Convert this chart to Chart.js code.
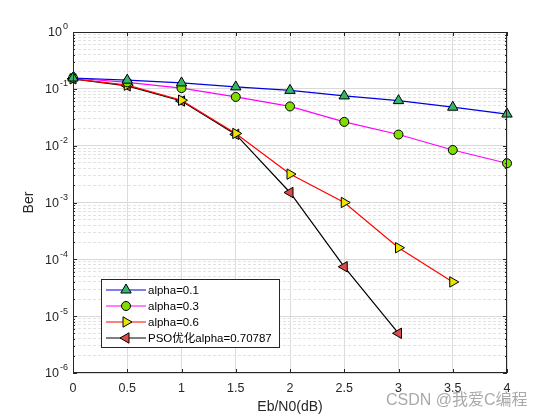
<!DOCTYPE html>
<html>
<head>
<meta charset="utf-8">
<script src="https://cdn.jsdelivr.net/npm/chart.js@4.4.0/dist/chart.umd.min.js"></script>
<style>
html,body{margin:0;padding:0;background:#fff;}
#wrap{width:560px;height:420px;position:relative;}
</style>
</head>
<body>
<div id="wrap"><canvas id="c" width="560" height="420"></canvas></div>
<script>
// ---- data ----
const ebn0 = [0, 0.5, 1, 1.5, 2, 2.5, 3, 3.5, 4];
const ber01 = [0.155, 0.142, 0.127, 0.108, 0.094, 0.075, 0.062, 0.0475, 0.036];
const ber03 = [0.155, 0.130, 0.103, 0.072, 0.049, 0.0262, 0.0157, 0.0084, 0.0049];
const ber06 = [0.150, 0.116, 0.063, 0.0164, 0.00316, 0.00100, 0.000160, 0.0000400];
const berPSO = [0.150, 0.113, 0.061, 0.0158, 0.00150, 0.0000740, 0.0000050];
const seriesLabels = ['alpha=0.1', 'alpha=0.3', 'alpha=0.6', 'PSO优化alpha=0.70787'];
const xTicks = [0, 0.5, 1, 1.5, 2, 2.5, 3, 3.5, 4];
const yTickExponents = [0, -1, -2, -3, -4, -5, -6];
const minorMultipliers = [2, 3, 4, 5, 6, 7, 8, 9];
const xTitle = 'Eb/N0(dB)';
const yTitle = 'Ber';
const watermark = 'CSDN @我爱C编程';

const FONT = '"Liberation Sans", Arial, "Noto Sans CJK SC", sans-serif';
const TXT = '#262626';

function pts(arr){ return arr.map((v,i)=>({x: ebn0[i], y: v})); }

const yTickValues = [];
yTickExponents.forEach(e => {
  yTickValues.push({value: Math.pow(10, e), major: true});
  if (e < 0) minorMultipliers.forEach(m => yTickValues.push({value: m * Math.pow(10, e), major: false}));
});
yTickValues.sort((a,b)=>a.value-b.value);

const styles = [
  {color:'#0000e6', fill:'#2fb86a', style:'triangle', rot:0, r:6},
  {color:'#ff00ff', fill:'#80dd00', style:'circle', rot:0, r:4.5},
  {color:'#ff0000', fill:'#e6e600', style:'triangle', rot:90, r:6},
  {color:'#000000', fill:'#dd4a4a', style:'triangle', rot:-90, r:6},
];
const allData = [ber01, ber03, ber06, berPSO];

const datasets = allData.map((d,i)=>({
  label: seriesLabels[i],
  data: pts(d),
  borderColor: styles[i].color,
  backgroundColor: styles[i].fill,
  pointBackgroundColor: styles[i].fill,
  pointBorderColor: '#000',
  pointBorderWidth: 1,
  pointStyle: styles[i].style,
  pointRotation: styles[i].rot,
  pointRadius: styles[i].r,
  borderWidth: 1.2,
  tension: 0,
  clip: false
}));

function isDecade(v){
  if (v === undefined) return true;
  const l = Math.log10(v);
  return Math.abs(l - Math.round(l)) < 1e-6;
}

const decorPlugin = {
  id: 'decor',
  afterDraw(chart){
    const ctx = chart.ctx;
    const a = chart.chartArea;
    const xs = chart.scales.x, ys = chart.scales.y;
    ctx.save();
    // frame
    ctx.strokeStyle = '#262626';
    ctx.lineWidth = 1;
    ctx.strokeRect(a.left+0.5, a.top+0.5, a.right-a.left-1, a.bottom-a.top-1);
    // inward ticks
    ctx.beginPath();
    xTicks.forEach(t => {
      const px = Math.round(xs.getPixelForValue(t)) + 0.5;
      ctx.moveTo(px, a.bottom); ctx.lineTo(px, a.bottom-4);
      ctx.moveTo(px, a.top); ctx.lineTo(px, a.top+4);
    });
    yTickValues.forEach(t => {
      const py = Math.round(ys.getPixelForValue(t.value)) + 0.5;
      const len = t.major ? 4 : 2;
      ctx.moveTo(a.left, py); ctx.lineTo(a.left+len, py);
      ctx.moveTo(a.right, py); ctx.lineTo(a.right-len, py);
    });
    ctx.stroke();
    // y tick labels 10^n
    ctx.fillStyle = TXT;
    ctx.textBaseline = 'middle';
    yTickExponents.forEach(e => {
      const py = ys.getPixelForValue(Math.pow(10, e));
      const exp = String(e);
      ctx.font = '9px ' + FONT;
      const ew = ctx.measureText(exp).width;
      ctx.textAlign = 'right';
      ctx.fillText(exp, a.left - 5, py - 5);
      ctx.font = '12.5px ' + FONT;
      ctx.fillText('10', a.left - 5 - ew - 1, py + 1);
    });
    // legend
    const lx = 101, ly = 279, lw = 178, lh = 68;
    ctx.fillStyle = '#fff';
    ctx.fillRect(lx, ly, lw, lh);
    ctx.strokeStyle = '#262626';
    ctx.lineWidth = 1;
    ctx.strokeRect(lx+0.5, ly+0.5, lw, lh);
    chart.data.datasets.forEach((ds, i) => {
      const yy = ly + 11 + i*16;
      ctx.strokeStyle = ds.borderColor;
      ctx.lineWidth = 1.2;
      ctx.beginPath(); ctx.moveTo(lx+5, yy); ctx.lineTo(lx+45, yy); ctx.stroke();
      ctx.fillStyle = ds.pointBackgroundColor;
      ctx.strokeStyle = '#000';
      ctx.lineWidth = 1;
      Chart.helpers.drawPoint(ctx, {pointStyle: ds.pointStyle, rotation: ds.pointRotation, radius: ds.pointRadius, borderWidth: 1}, lx+25, yy);
      ctx.fillStyle = '#000';
      ctx.font = '11.5px ' + FONT;
      ctx.textAlign = 'left';
      ctx.textBaseline = 'middle';
      ctx.fillText(ds.label, lx+47, yy+1);
    });
    // watermark
    ctx.font = '16px ' + FONT;
    ctx.fillStyle = 'rgba(140,140,140,0.75)';
    ctx.textAlign = 'left';
    ctx.textBaseline = 'middle';
    ctx.fillText(watermark, 386, 401);
    ctx.restore();
  }
};

new Chart(document.getElementById('c'), {
  type: 'line',
  data: { datasets },
  options: {
    responsive: false,
    animation: false,
    devicePixelRatio: 1,
    layout: { padding: { left: 0, top: 32, right: 53, bottom: 0 } },
    plugins: { legend: { display: false }, tooltip: { enabled: false } },
    scales: {
      x: {
        type: 'linear', min: 0, max: 4,
        afterBuildTicks: s => { s.ticks = xTicks.map(v => ({value: v})); },
        afterFit: s => { s.height = 47; },
        ticks: { color: TXT, font: { family: FONT, size: 12.5 }, padding: 8, maxRotation: 0,
                 callback: v => String(v) },
        grid: { color: '#dcdcdc', lineWidth: 1, drawTicks: false },
        border: { display: false },
        title: { display: true, text: xTitle, color: TXT, font: { family: FONT, size: 14 }, padding: { top: 0, bottom: 4 } }
      },
      y: {
        type: 'logarithmic', min: 1e-6, max: 1,
        afterBuildTicks: s => { s.ticks = yTickValues.map(t => ({value: t.value, major: t.major})); },
        afterFit: s => { s.width = 73; },
        ticks: { display: false },
        grid: {
          drawTicks: false,
          color: c => (c.tick && !isDecade(c.tick.value)) ? '#e3e3e3' : '#d9d9d9',
          lineWidth: 1
        },
        border: { display: false, dash: c => (c.tick && !isDecade(c.tick.value)) ? [3, 2] : [] },
        title: { display: true, text: yTitle, color: TXT, font: { family: FONT, size: 14 }, padding: { top: 21, bottom: 0 } }
      }
    }
  },
  plugins: [decorPlugin]
});
</script>
</body>
</html>
